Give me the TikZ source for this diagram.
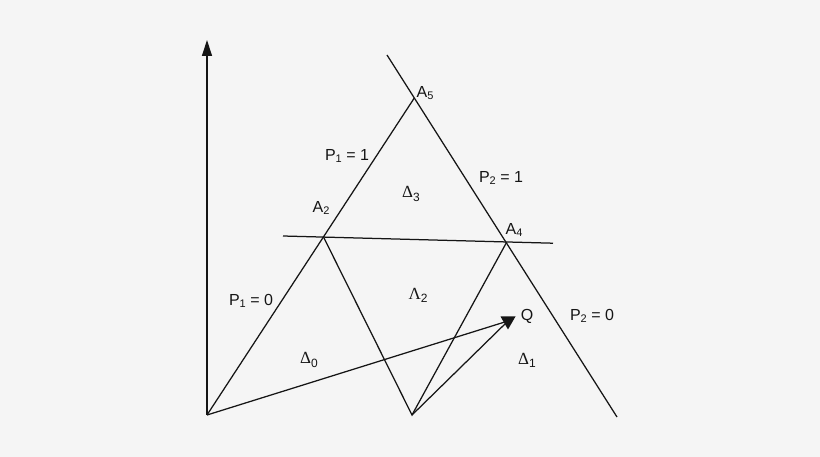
\documentclass[tikz,border=0pt]{standalone}
\usepackage{fontspec}
\setmainfont{Liberation Sans}
\newfontfamily\grkfont{Liberation Serif}
\usetikzlibrary{arrows.meta}
\newcommand{\lsub}[1]{\raisebox{-0.3ex}{\fontsize{11}{11}\selectfont #1}}
\newcommand{\gsub}[2]{{\grkfont #1}\raisebox{-0.35ex}{\fontsize{12}{12}\selectfont #2}}
\definecolor{bg}{HTML}{F5F5F5}
\definecolor{ink}{HTML}{151515}
\begin{document}
\begin{tikzpicture}[x=1pt,y=-1pt,
  ln/.style={draw=ink,line width=1.25pt},
  lbl/.style={inner sep=0pt,font=\fontsize{16}{18}\selectfont,text=ink},
  glbl/.style={inner sep=0pt,font=\fontsize{17}{18}\selectfont,text=ink}]
\fill[bg] (0,0) rectangle (820,457);
\useasboundingbox (0,0) rectangle (820,457);
% points
\coordinate (O) at (207,415);
\coordinate (top) at (207,40);
\coordinate (A5) at (414.3,98);
\coordinate (R1) at (387,55);
\coordinate (R2) at (617,417);
\coordinate (A2) at (323.5,237);
\coordinate (A4) at (506.4,242.7);
\coordinate (H1) at (283,236);
\coordinate (H2) at (553,243.2);
\coordinate (B) at (412,415);
\coordinate (Q) at (508,321);
\coordinate (Qt) at (515.5,316.5);
\coordinate (Qa) at (500.5,316.5);
\coordinate (Qb) at (508,329.5);
% axis
\draw[ln,-{Triangle[length=16pt,width=10pt]}] (O) -- (top);
% lines
\draw[ln] (O) -- (A5);
\draw[ln] (R1) -- (R2);
\draw[ln] (H1) -- (H2);
\draw[ln] (A2) -- (B) -- (A4);
\draw[ln] (O) -- (Q);
\draw[ln] (B) -- (Q);
\fill[ink] (Qt) -- (Qa) -- (Qb) -- cycle;
% labels
\node[lbl] (lA5) at (425,93) {A\lsub{5}};
\node[lbl] (lP11) at (347,156) {P\lsub{1} = 1};
\node[lbl] (lA2) at (321,208) {A\lsub{2}};
\node[glbl] (lD3) at (411,194) {\gsub{Δ}{3}};
\node[lbl] (lP21) at (501,178) {P\lsub{2} = 1};
\node[lbl] (lA4) at (514,230) {A\lsub{4}};
\node[glbl] (lL2) at (418,295) {\gsub{Λ}{2}};
\node[lbl] (lQ) at (527,316) {Q};
\node[lbl] (lP20) at (592,316) {P\lsub{2} = 0};
\node[lbl] (lP10) at (251,301) {P\lsub{1} = 0};
\node[glbl] (lD0) at (309,360) {\gsub{Δ}{0}};
\node[glbl] (lD1) at (527,360) {\gsub{Δ}{1}};
\end{tikzpicture}
\end{document}
